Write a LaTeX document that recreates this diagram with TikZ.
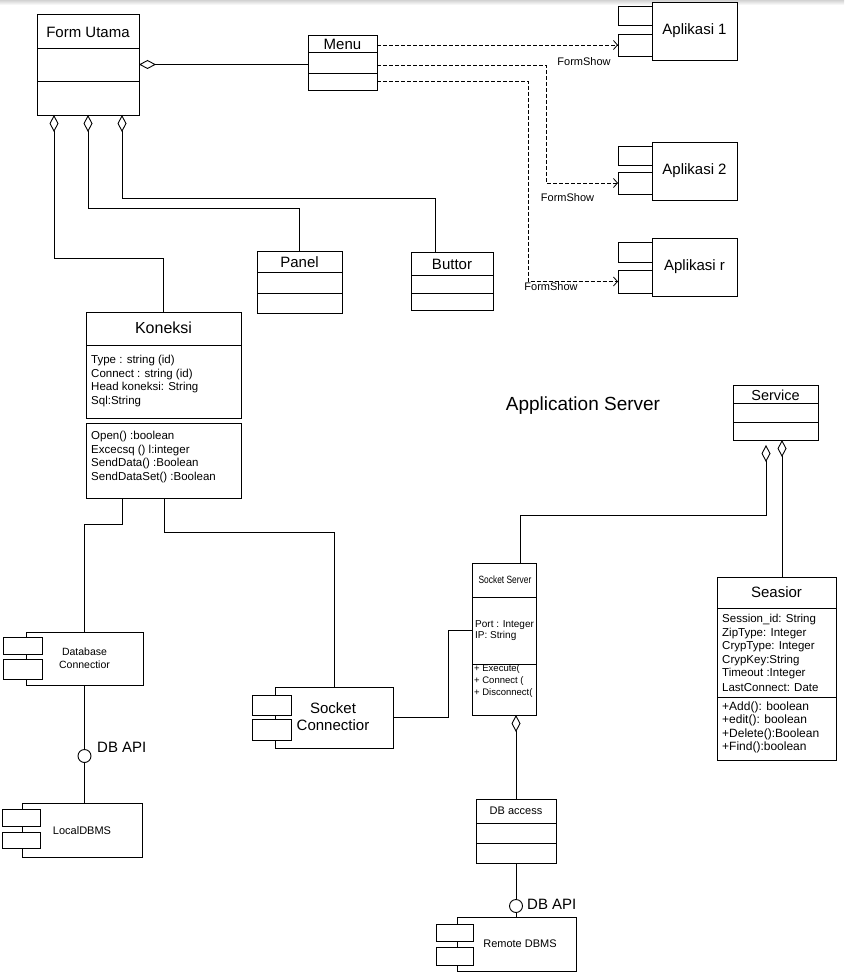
\documentclass[tikz,border=0pt]{standalone}
\usepackage{fontspec}
\setmainfont{Liberation Sans}
\usetikzlibrary{arrows.meta,calc}
\newcommand\fs[1]{\fontsize{#1}{#1}\selectfont}
\newcommand\hdiv[2]{\draw[ln] ($(#1.north west)+(0,#2)$) -- ($(#1.north east)+(0,#2)$);}
\begin{document}
\begin{tikzpicture}[x=1pt,y=-1pt,
 ln/.style={line width=0.9pt},
 box/.style={draw, line width=0.9pt, fill=white, inner sep=0pt, outer sep=0pt, anchor=north west},
 agg/.style={line width=0.9pt, {Diamond[open,length=17pt,width=9pt]}-},
 dep/.style={line width=0.8pt, dash pattern=on 4pt off 2pt, -{Straight Barb[length=4pt,width=9pt]}},
 lbl/.style={inner sep=0pt},
 attr/.style={inner sep=0pt, anchor=west},
 api/.style={draw, circle, line width=0.9pt, minimum size=13pt, inner sep=0pt, fill=white}
]
\fill[white] (0,0) rectangle (844,976);
\useasboundingbox (0,0) rectangle (844,976);
\shade[top color=gray!35, bottom color=white] (0,0) rectangle (844,5);

% Form Utama
\node[box, minimum width=102pt, minimum height=101pt] (fu) at (37,14) {};
\hdiv{fu}{34}\hdiv{fu}{67}
\node[lbl, font=\fs{15}] at (88,32) {Form Utama};

% Menu
\node[box, minimum width=69pt, minimum height=55pt] (menu) at (308,35) {};
\hdiv{menu}{17}\hdiv{menu}{38}
\node[lbl, font=\fs{15}] at (342.5,44) {Menu};

% Aplikasi
\node[box, minimum width=85pt, minimum height=58pt] (apl1) at (652,2) {};
\node[box, minimum width=34pt, minimum height=19pt] (a1a) at (618,6) {};
\node[box, minimum width=34pt, minimum height=22pt] (a1b) at (618,34) {};
\node[lbl, font=\fs{15}] at (694.5,31) {Aplikasi 1};
\node[box, minimum width=85pt, minimum height=58pt] (apl2) at (652,142) {};
\node[box, minimum width=34pt, minimum height=19pt] (a2a) at (618,146) {};
\node[box, minimum width=34pt, minimum height=22pt] (a2b) at (618,172) {};
\node[lbl, font=\fs{15}] at (694.5,171) {Aplikasi 2};
\node[box, minimum width=85pt, minimum height=58pt] (aplr) at (652,238) {};
\node[box, minimum width=34pt, minimum height=20pt] (ara) at (618,242) {};
\node[box, minimum width=34pt, minimum height=23pt] (arb) at (618,270) {};
\node[lbl, font=\fs{15}] at (694.5,267) {Aplikasi r};

\draw[dep] (a1b.west -| menu.east) -- (a1b.west);
\draw[dep] ($(menu.north east)+(0,30)$) -- ++(169,0) |- (a2b.west);
\draw[dep] ($(menu.north east)+(0,46)$) -- ++(151,0) |- (arb.west);
\node[lbl, font=\fs{11}] at (584,62) {FormShow};
\node[lbl, font=\fs{11}] at (567.5,198) {FormShow};
\node[lbl, font=\fs{11}] at (551,287) {FormShow};

% Panel, Button
\node[box, minimum width=85pt, minimum height=62pt] (panel) at (257,251) {};
\hdiv{panel}{21}\hdiv{panel}{42}
\node[lbl, font=\fs{15}] at (299.5,262) {Panel};
\node[box, minimum width=82pt, minimum height=58pt] (button) at (411,252) {};
\hdiv{button}{23}\hdiv{button}{41}
\node[lbl, font=\fs{15}] at (452,264) {Buttor};

% Koneksi
\node[box, minimum width=155pt, minimum height=106pt] (kon) at (86,312) {};
\hdiv{kon}{33}
\node[box, minimum width=155pt, minimum height=75pt] (kon2) at (86,423) {};
\node[lbl, font=\fs{16}] at (163.5,328) {Koneksi};
\begin{scope}[every node/.style={attr, font=\fs{11.5}}]
\node at (91,361) {Type : string (id)};
\node at (91,374.5) {Connect : string (id)};
\node at (91,388) {Head koneksi: String};
\node at (91,401.5) {Sql:String};
\node at (91,437) {Open() :boolean};
\node at (91,450.5) {Excecsq () l:integer};
\node at (91,464) {SendData() :Boolean};
\node at (91,477.5) {SendDataSet() :Boolean};
\end{scope}

% connectors from Form Utama
\draw[agg] (fu.east) -- (fu.east -| menu.west);
\draw[agg] ($(fu.south west)+(17,0)$) -- ++(0,143) -| (kon.north);
\draw[agg] ($(fu.south west)+(51,0)$) -- ++(0,93) -| (panel.north);
\draw[agg] ($(fu.south west)+(85,0)$) -- ++(0,83) -| ($(button.north west)+(24,0)$);

% Database Connection
\node[box, minimum width=117pt, minimum height=53pt] (dbc) at (26,632) {};
\node[box, minimum width=39pt, minimum height=17pt] (dbca) at (3,637) {};
\node[box, minimum width=39pt, minimum height=20pt] (dbcb) at (3,659) {};
\node[lbl, font=\fs{10.5}] at (84.5,652) {Database};
\node[lbl, font=\fs{10.5}] at (84.5,665) {Connectior};
\node[api] (api1) at (84.5,756) {};
\node[attr, font=\fs{15}] at (97,747) {DB API};
\node[box, minimum width=120pt, minimum height=54pt] (ldb) at (22,803) {};
\node[box, minimum width=38pt, minimum height=17pt] (ldba) at (2,809) {};
\node[box, minimum width=38pt, minimum height=16pt] (ldbb) at (2,832) {};
\node[lbl, font=\fs{11}] at (82,831) {LocalDBMS};
\draw[ln] (dbc.south) -- (api1.north);
\draw[ln] (api1.south) -- (api1.south |- ldb.north);

% Socket Connection
\node[box, minimum width=118pt, minimum height=61pt] (sc) at (275,687) {};
\node[box, minimum width=39pt, minimum height=20pt] (sca) at (252,695) {};
\node[box, minimum width=39pt, minimum height=21pt] (scb) at (252,719) {};
\node[lbl, font=\fs{15}] at (333,708) {Socket};
\node[lbl, font=\fs{15}] at (333,725) {Connectior};

\draw[ln] ($(kon2.south west)+(36,0)$) -- ++(0,26) -| (dbc.north);
\draw[ln] ($(kon2.south west)+(78,0)$) -- ++(0,34) -| (sc.north);

% Socket Server
\node[box, minimum width=64pt, minimum height=152pt] (ss) at (472,563) {};
\hdiv{ss}{34}\hdiv{ss}{101}
\node[lbl, font=\fs{10.5}] at (505,580) {\scalebox{0.8}[1]{Socket Server}};
\begin{scope}[every node/.style={attr, font=\fs{10}}]
\node at (475,625) {Port : Integer};
\node at (475,636) {IP: String};
\end{scope}
\begin{scope}
\clip ($(ss.north west)+(0,101)$) rectangle (ss.south east);
\begin{scope}[every node/.style={attr, font=\fs{9.5}}]
\node at (474,669) {+ Execute(};
\node at (474,681) {+ Connect (};
\node at (474,693) {+ Disconnect(};
\end{scope}
\end{scope}
\draw[ln] (sc.east) -| ($(ss.north west)+(-24,67)$) -- ($(ss.north west)+(0,67)$);

% DB access
\node[box, minimum width=80pt, minimum height=64pt] (dba) at (476,799) {};
\hdiv{dba}{24}\hdiv{dba}{44}
\node[lbl, font=\fs{11}] at (516,811) {DB access};
\draw[agg] (dba.north |- ss.south) -- (dba.north);
\node[api] (api2) at (516,906) {};
\node[attr, font=\fs{15}] at (527,904) {DB API};
\node[box, minimum width=119pt, minimum height=54pt] (rdb) at (457,917) {};
\node[box, minimum width=37pt, minimum height=17pt] (rdba) at (436,924) {};
\node[box, minimum width=37pt, minimum height=18pt] (rdbb) at (436,947) {};
\node[lbl, font=\fs{11}] at (520,944) {Remote DBMS};
\draw[ln] (dba.south) -- (api2.north);
\draw[ln] (api2.south) -- (api2.south |- rdb.north);

% Application Server
\node[lbl, font=\fs{19}] at (583,406) {Application Server};

% Service
\node[box, minimum width=85pt, minimum height=55pt] (svc) at (733,385) {};
\hdiv{svc}{18}\hdiv{svc}{37}
\node[lbl, font=\fs{14.5}] at (775.5,395) {Service};

% Session
\node[box, minimum width=119pt, minimum height=183pt] (ses) at (717,577) {};
\hdiv{ses}{31}\hdiv{ses}{120}
\node[lbl, font=\fs{15}] at (776.5,592) {Seasior};
\begin{scope}
\clip (ses.north west) rectangle (ses.south east);
\begin{scope}[every node/.style={attr, font=\fs{11.5}}]
\node at (722,620) {Session\_id: String};
\node at (722,633.5) {ZipType: Integer};
\node at (722,647) {CrypType: Integer};
\node at (722,660.5) {CrypKey:String};
\node at (722,674) {Timeout :Integer};
\node at (722,687.5) {LastConnect: Date};
\end{scope}
\begin{scope}[every node/.style={attr, font=\fs{12}}]
\node at (722,707) {+Add(): boolean};
\node at (722,720.5) {+edit(): boolean};
\node at (722,734) {+Delete():Boolean};
\node at (722,747.5) {+Find():boolean};
\end{scope}
\end{scope}

\draw[agg] ($(svc.south west)+(33,5)$) -- ++(0,70) -| ($(ss.north west)+(48,0)$);
\draw[agg] ($(svc.south west)+(49,0)$) -- ($(ses.north west)+(65,0)$);
\end{tikzpicture}
\end{document}
